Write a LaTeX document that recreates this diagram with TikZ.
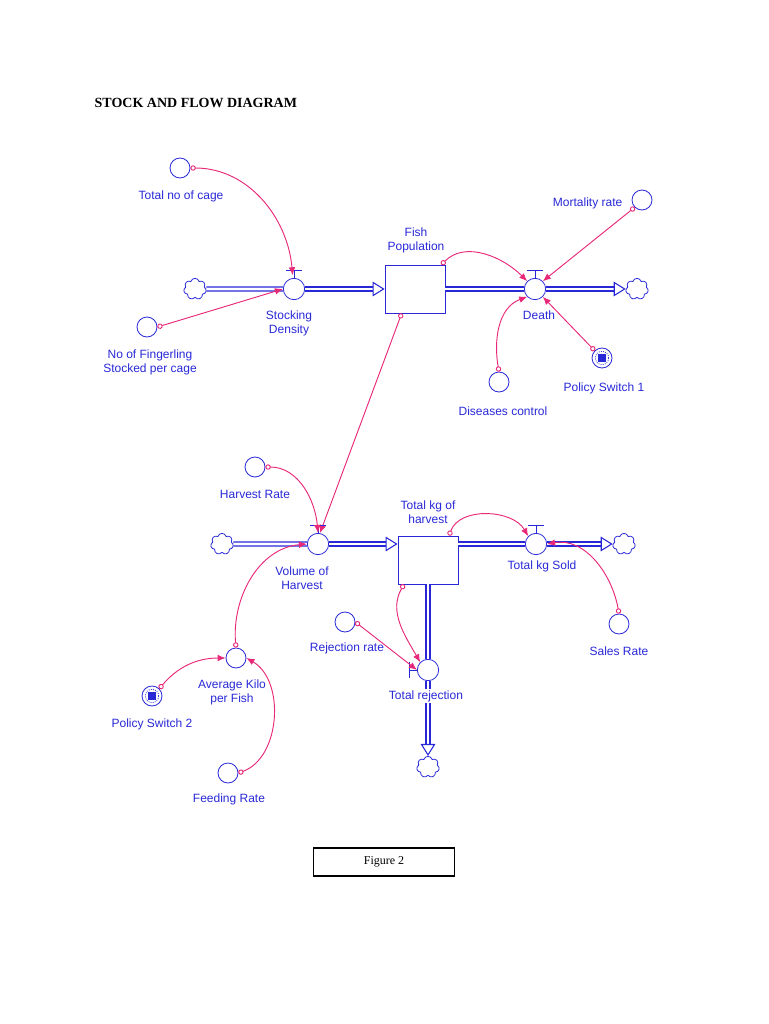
\documentclass[tikz,border=0pt]{standalone}
\usepackage{fontspec}
\setmainfont{Liberation Serif}
\newfontfamily\lab{Liberation Sans}
\usetikzlibrary{arrows.meta,shapes.symbols}
\definecolor{vb}{RGB}{40,40,215}
\definecolor{lk}{RGB}{232,40,120}
\begin{document}
\begin{tikzpicture}[x=0.75pt,y=-0.75pt,
  aux/.style={circle,draw=vb,semithick,minimum size=15pt,inner sep=0},
  valve/.style={circle,draw=vb,semithick,minimum size=16pt,inner sep=0},
  stock/.style={draw=vb,semithick,minimum width=45pt,minimum height=36pt,inner sep=0},
  sky/.style={cloud,cloud puffs=7,draw=vb,semithick,minimum width=17pt,minimum height=16pt,inner sep=0,aspect=1},
  lbl/.style={text=vb,font=\lab\fontsize{9}{10.5}\selectfont,align=center},
  pipe/.style={draw=vb,double=white,double distance=2.2pt,line width=0.8pt},
  tip/.style={-{Triangle[open,length=9pt,width=11pt]}},
  link/.style={draw=lk,line width=0.7pt,{Circle[open,length=4pt,width=4pt]}-{Latex[length=6pt,width=5pt]}},
  sw/.style={aux,path picture={\fill[vb] ([xshift=-3pt,yshift=-3pt]path picture bounding box.center) rectangle ([xshift=3pt,yshift=3pt]path picture bounding box.center);
    \draw[vb,densely dotted] (path picture bounding box.center) circle (5pt);}}]
\useasboundingbox (0,0) rectangle (768,1024);
\node[anchor=west,font=\bfseries\fontsize{10.5}{12}\selectfont] (title) at (90,103) {STOCK AND FLOW DIAGRAM};
% Flow 1
\node[sky] (c1) at (195,289) {};
\node[valve] (sd) at (294,289) {};
\node[stock] (fp) at (415,289) {};
\node[valve] (de) at (535,289) {};
\node[sky] (c2) at (637,289) {};
\foreach \v in {sd,de}{\draw[vb,semithick] ([yshift=6pt]\v.north) -- (\v.north) ([xshift=-6pt,yshift=6pt]\v.north) -- ([xshift=6pt,yshift=6pt]\v.north);}
\draw[pipe] (c1) -- (sd);
\draw[pipe,tip] (sd) -- (fp.west);
\draw[pipe] (fp.east) -- (de);
\draw[pipe,tip] (de) -- (c2.west);
\node[lbl] at (289,323) {Stocking\\Density};
\node[lbl] at (416,240) {Fish\\Population};
\node[lbl] at (539,315) {Death};
\node[aux] (tc) at (180,168) {};
\node[lbl] at (181,196) {Total no of cage};
\node[aux] (mr) at (642,200) {};
\node[lbl,anchor=east] at (627,203) {Mortality rate};
\node[aux] (nf) at (147,327) {};
\node[lbl] at (150,362) {No of Fingerling\\Stocked per cage};
\node[aux] (dc) at (499,382) {};
\node[lbl] at (503,411) {Diseases control};
\node[sw] (ps1) at (602,358) {};
\node[lbl] at (604,388) {Policy Switch 1};
\draw[link] (tc.east) to[out=0,in=95] ([xshift=-1pt,yshift=2pt]sd.north);
\draw[link] (nf.east) -- (sd.west);
\draw[link] ([xshift=-3pt]fp.north east) to[out=45,in=135] (de.north west);
\draw[link] (mr.south west) -- (de.north east);
\draw[link] (dc.north) to[out=100,in=200] (de.south west);
\draw[link] (ps1.north west) -- (de.south east);
\draw[link] ([xshift=-10pt]fp.south) -- (320,533);
% Flow 2
\node[sky] (c3) at (222,544) {};
\node[valve] (vh) at (318,544) {};
\node[stock] (tk) at (428,560) {};
\node[valve] (ts) at (536,544) {};
\node[sky] (c4) at (624,544) {};
\node[valve] (tr) at (428,670) {};
\node[sky] (c5) at (428,767) {};
\foreach \v in {vh,ts}{\draw[vb,semithick] ([yshift=6pt]\v.north) -- (\v.north) ([xshift=-6pt,yshift=6pt]\v.north) -- ([xshift=6pt,yshift=6pt]\v.north);}
\draw[vb,semithick] ([xshift=-6pt]tr.west) -- (tr.west) ([xshift=-6pt,yshift=6pt]tr.west) -- ([xshift=-6pt,yshift=-6pt]tr.west);
\draw[pipe] (c3) -- (vh);
\draw[pipe,tip] (vh) -- (tk.west |- vh);
\draw[pipe] (tk.east |- ts) -- (ts);
\draw[pipe,tip] (ts) -- (c4.west);
\draw[pipe] (tk.south) -- (tr);
\draw[pipe,tip] (tr.south) -- (c5.north);
\node[lbl] at (302,578) {Volume of\\Harvest};
\node[lbl] at (428,512) {Total kg of\\harvest};
\node[lbl] at (542,566) {Total kg Sold};
\node[lbl,fill=white,inner sep=1pt] at (426,696) {Total rejection};
\node[aux] (hr) at (255,467) {};
\node[lbl] at (255,494) {Harvest Rate};
\node[aux] (rr) at (345,622) {};
\node[lbl] at (347,648) {Rejection rate};
\node[aux] (sr) at (619,624) {};
\node[lbl] at (619,651) {Sales Rate};
\node[aux] (ak) at (236,658) {};
\node[lbl] at (232,692) {Average Kilo\\per Fish};
\node[sw] (ps2) at (152,696) {};
\node[lbl] at (152,724) {Policy Switch 2};
\node[aux] (fr) at (228,773) {};
\node[lbl] at (229,799) {Feeding Rate};
\draw[link] (hr.east) to[out=0,in=95] (vh.north);
\draw[link] (ak.north) to[out=95,in=185] (vh.west);
\draw[link] (ps2.north east) to[out=50,in=180] (ak.west);
\draw[link] (fr.east) to[out=20,in=-30] (ak.east);
\draw[link] ([xshift=-7pt]tk.north east) to[out=70,in=120] (ts.north west);
\draw[link] (sr.north) to[out=100,in=10] (ts.east);
\draw[link] ([xshift=-18pt]tk.south) to[out=240,in=120] (tr.north west);
\draw[link] (rr.east) -- (tr.west);
% Figure box
\node[draw,thick,minimum width=106pt,minimum height=21pt,font=\fontsize{9}{10}\selectfont] (fig) at (384,862) {Figure 2};
\end{tikzpicture}
\end{document}
